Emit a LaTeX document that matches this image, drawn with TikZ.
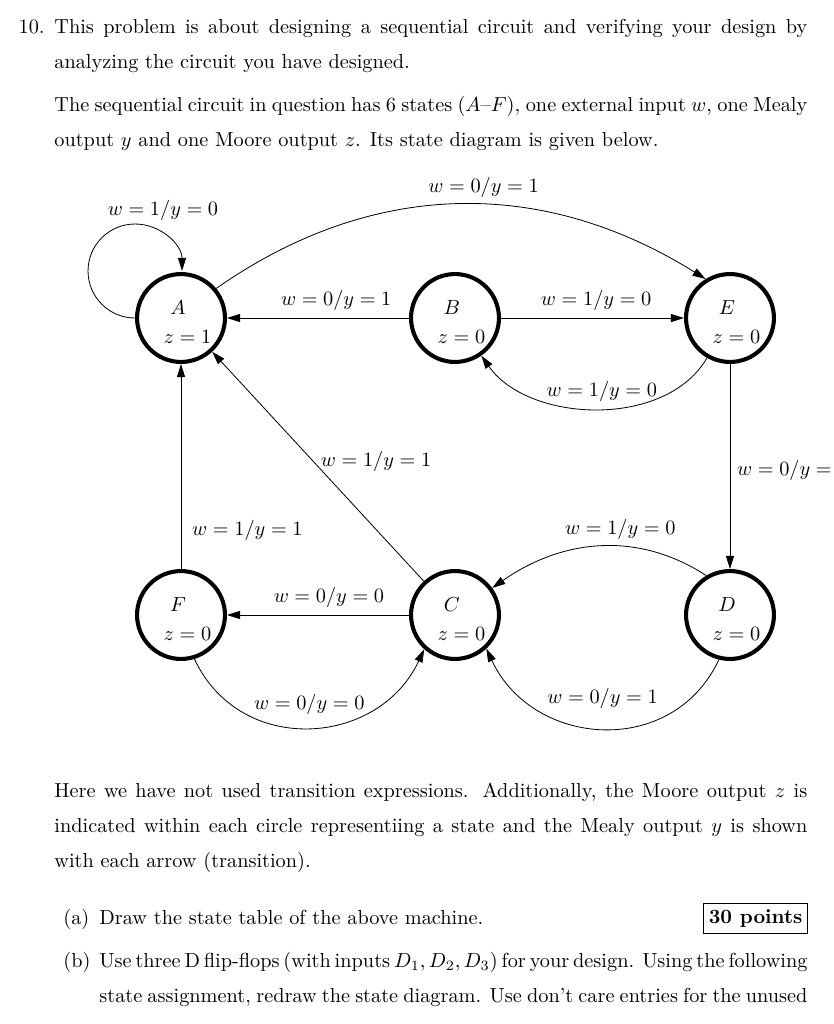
\documentclass[tikz,border=0pt]{standalone}
\usepackage{amsmath, amssymb, amsfonts}
\usepackage{tikz}
\usetikzlibrary{arrows.meta}

\newcommand{\fullline}[1]{\makebox[370.9pt][s]{#1}}
\newcommand{\subline}[1]{\makebox[348.8pt][s]{\spaceskip=3.33333pt plus 1.66666pt minus 1.7pt #1}}
\newcommand{\statetext}[2]{\rule{0pt}{11.1pt}$#1$\hspace*{3pt}\\[2.1pt]\hspace*{6.4pt}$z=#2$}

\begin{document}
\begin{tikzpicture}[x=0.4926pt, y=0.4926pt,
  txt/.style = {anchor=base west, inner sep=0pt},
  state/.style = {circle, draw, line width=2pt, minimum size=43.3pt,
    inner sep=0pt, align=center},
  trans/.style = {line width=0.4pt, -{Triangle[length=6.5pt, width=4pt]}}]
  \useasboundingbox (0,0) rectangle (834,-1024);

  % question text
  \node[txt, anchor=base east] (num) at (45,-33) {10.};
  \node[txt] (p1a) at (54,-33) {\fullline{This problem is about designing a sequential circuit and verifying your design by}};
  \node[txt] (p1b) at (54,-68) {analyzing the circuit you have designed.};
  \node[txt] (p2a) at (54,-111) {\fullline{The sequential circuit in question has 6 states ($A$--$F$), one external input $w$, one Mealy}};
  \node[txt] (p2b) at (54,-146) {output $y$ and one Moore output $z$. Its state diagram is given below.};

  % states
  \node[state] (A) at (181,-318) {\statetext{A}{1}};
  \node[state] (B) at (455,-318) {\statetext{B}{0}};
  \node[state] (E) at (730,-318) {\statetext{E}{0}};
  \node[state] (F) at (181,-615) {\statetext{F}{0}};
  \node[state] (C) at (455,-615) {\statetext{C}{0}};
  \node[state] (D) at (730,-615) {\statetext{D}{0}};

  % transitions
  \draw[trans] (A.180) arc[start angle=270, end angle=0, radius=47];
  \node (loopA) at (163,-210) {$w=1/y=0$};
  \draw[trans] (A.40) to[out=35, in=148] node[pos=.55, above] {$w=0/y=1$} (E.122);
  \draw[trans] (B) -- node[pos=.4, above] {$w=0/y=1$} (A);
  \draw[trans] (B) -- node[pos=.52, above] {$w=1/y=0$} (E);
  \draw[trans] (E.240) to[out=240, in=305, looseness=.93] node[pos=.48, above] {$w=1/y=0$} (B.305);
  \draw[trans] (E) -- node[pos=.52, right] {$w=0/y=$} (D);
  \draw[trans] (D.121) to[out=147, in=35] node[pos=.4, above] {$w=1/y=0$} (C.36);
  \draw[trans] (D.256) to[out=245, in=295, looseness=1.2] node[pos=.5, above=6pt] {$w=0/y=1$} (C.313);
  \draw[trans] (C) -- node[pos=.44, above] {$w=0/y=0$} (F);
  \draw[trans] (F.287) to[out=295, in=245, looseness=1.2] node[pos=.5, above=3pt] {$w=0/y=0$} (C.228);
  \draw[trans] (F) -- node[pos=.19, right=2pt] {$w=1/y=1$} (A);
  \draw[trans] (C) -- node[pos=.52, right] {$w=1/y=1$} (A);

  % remarks and parts
  \node[txt] (p3a) at (54,-797) {\fullline{Here we have not used transition expressions. Additionally, the Moore output $z$ is}};
  \node[txt] (p3b) at (54,-832) {\fullline{indicated within each circle representiing a state and the Mealy output $y$ is shown}};
  \node[txt] (p3c) at (54,-867) {with each arrow (transition).};
  \node[txt] (pa) at (63,-924) {(a)};
  \node[txt] (pat) at (99,-924) {Draw the state table of the above machine.};
  \node[draw, line width=0.4pt, font=\bfseries, inner xsep=2.6pt, inner ysep=3pt,
    text height=6.9pt, text depth=1.9pt, anchor=east] (pts) at (808,-918) {30 points};
  \node[txt] (pb) at (63,-967) {(b)};
  \node[txt] (pbt1) at (99,-967) {\subline{Use three D flip-flops (with inputs $D_1, D_2, D_3$) for your design. Using the following}};
  \node[txt] (pbt2) at (99,-1002) {\subline{state assignment, redraw the state diagram. Use don't care entries for the unused}};
\end{tikzpicture}
\end{document}
